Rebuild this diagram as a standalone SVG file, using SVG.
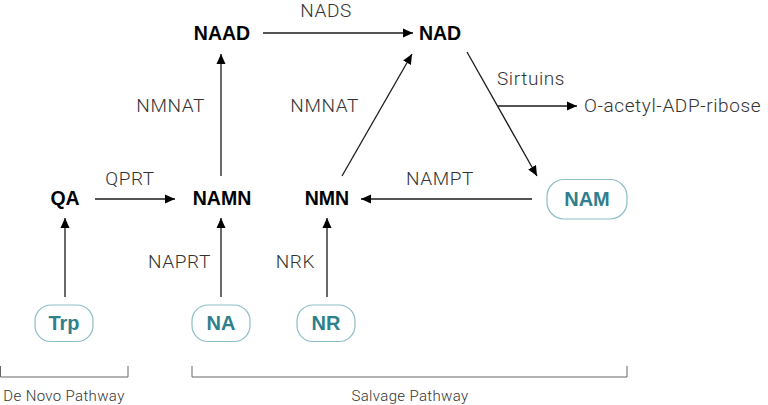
<svg xmlns="http://www.w3.org/2000/svg" width="768" height="405" viewBox="0 0 768 405">
<style>
.node{font-family:"Liberation Sans",Arial,sans-serif;font-weight:bold;font-size:19.5px;fill:#000;text-anchor:middle}
.pill rect{fill:#fff;stroke:#8dbdc8;stroke-width:1.2}
.pill text{font-family:"Liberation Sans",Arial,sans-serif;font-weight:bold;font-size:20px;fill:#2f7f8d;text-anchor:middle}
.lbl{font-family:Roboto,"Liberation Sans",sans-serif;font-weight:300;font-size:19px;letter-spacing:0.6px;fill:#333}
.sm{font-size:15px;letter-spacing:0.35px}
.edge{stroke:#1a1a1a;stroke-width:1.3;fill:none}
.brk{stroke:#666;stroke-width:1;fill:none}
</style>
<defs>
<marker id="arr" viewBox="0 0 10 10" refX="10" refY="5" markerWidth="10" markerHeight="10" markerUnits="userSpaceOnUse" orient="auto">
<path d="M0,0.5 L10,5 L0,9.5 Z" fill="#000"/>
</marker>
</defs>
<rect width="768" height="405" fill="#fff"/>

<g id="connectors">
<line class="edge" x1="263" y1="33" x2="413" y2="33" marker-end="url(#arr)"/>
<line class="edge" x1="221" y1="176" x2="221" y2="54" marker-end="url(#arr)"/>
<line class="edge" x1="342" y1="176" x2="412" y2="54" marker-end="url(#arr)"/>
<line class="edge" x1="467" y1="52" x2="537" y2="176" marker-end="url(#arr)"/>
<line class="edge" x1="498" y1="106" x2="577" y2="106" marker-end="url(#arr)"/>
<line class="edge" x1="95" y1="199" x2="175" y2="199" marker-end="url(#arr)"/>
<line class="edge" x1="532" y1="199" x2="361" y2="199" marker-end="url(#arr)"/>
<line class="edge" x1="65" y1="297" x2="65" y2="218" marker-end="url(#arr)"/>
<line class="edge" x1="221" y1="297" x2="221" y2="218" marker-end="url(#arr)"/>
<line class="edge" x1="327" y1="297" x2="327" y2="218" marker-end="url(#arr)"/>
</g>

<g id="labels">
<text class="lbl" x="326" y="17" text-anchor="middle">NADS</text>
<text class="lbl" x="205" y="112" text-anchor="end">NMNAT</text>
<text class="lbl" x="359" y="112" text-anchor="end">NMNAT</text>
<text class="lbl" x="497" y="85">Sirtuins</text>
<text class="lbl" x="584" y="112">O-acetyl-ADP-ribose</text>
<text class="lbl" x="130" y="185" text-anchor="middle">QPRT</text>
<text class="lbl" x="440" y="185" text-anchor="middle">NAMPT</text>
<text class="lbl" x="211" y="268" text-anchor="end">NAPRT</text>
<text class="lbl" x="315" y="268" text-anchor="end">NRK</text>
</g>

<g id="NAAD"><text class="node" x="222" y="40">NAAD</text></g>
<g id="NAD"><text class="node" x="440" y="40">NAD</text></g>
<g id="QA"><text class="node" x="65" y="205">QA</text></g>
<g id="NAMN"><text class="node" x="222" y="205">NAMN</text></g>
<g id="NMN"><text class="node" x="327" y="205">NMN</text></g>
<g id="NAM" class="pill"><rect x="547" y="179.5" width="80" height="39.5" rx="17"/><text x="587" y="206">NAM</text></g>
<g id="Trp" class="pill"><rect x="35" y="305" width="58" height="36.5" rx="16"/><text x="64" y="330">Trp</text></g>
<g id="NA" class="pill"><rect x="192" y="305" width="58" height="36.5" rx="16"/><text x="221" y="330">NA</text></g>
<g id="NR" class="pill"><rect x="297" y="305" width="58" height="36.5" rx="16"/><text x="326" y="330">NR</text></g>

<g id="brackets">
<path class="brk" d="M0.5,366 V377 H128 V366"/>
<path class="brk" d="M192,366 V377 H627 V366"/>
<text class="lbl sm" x="64" y="401" text-anchor="middle">De Novo Pathway</text>
<text class="lbl sm" x="410" y="401" text-anchor="middle">Salvage Pathway</text>
</g>
</svg>
